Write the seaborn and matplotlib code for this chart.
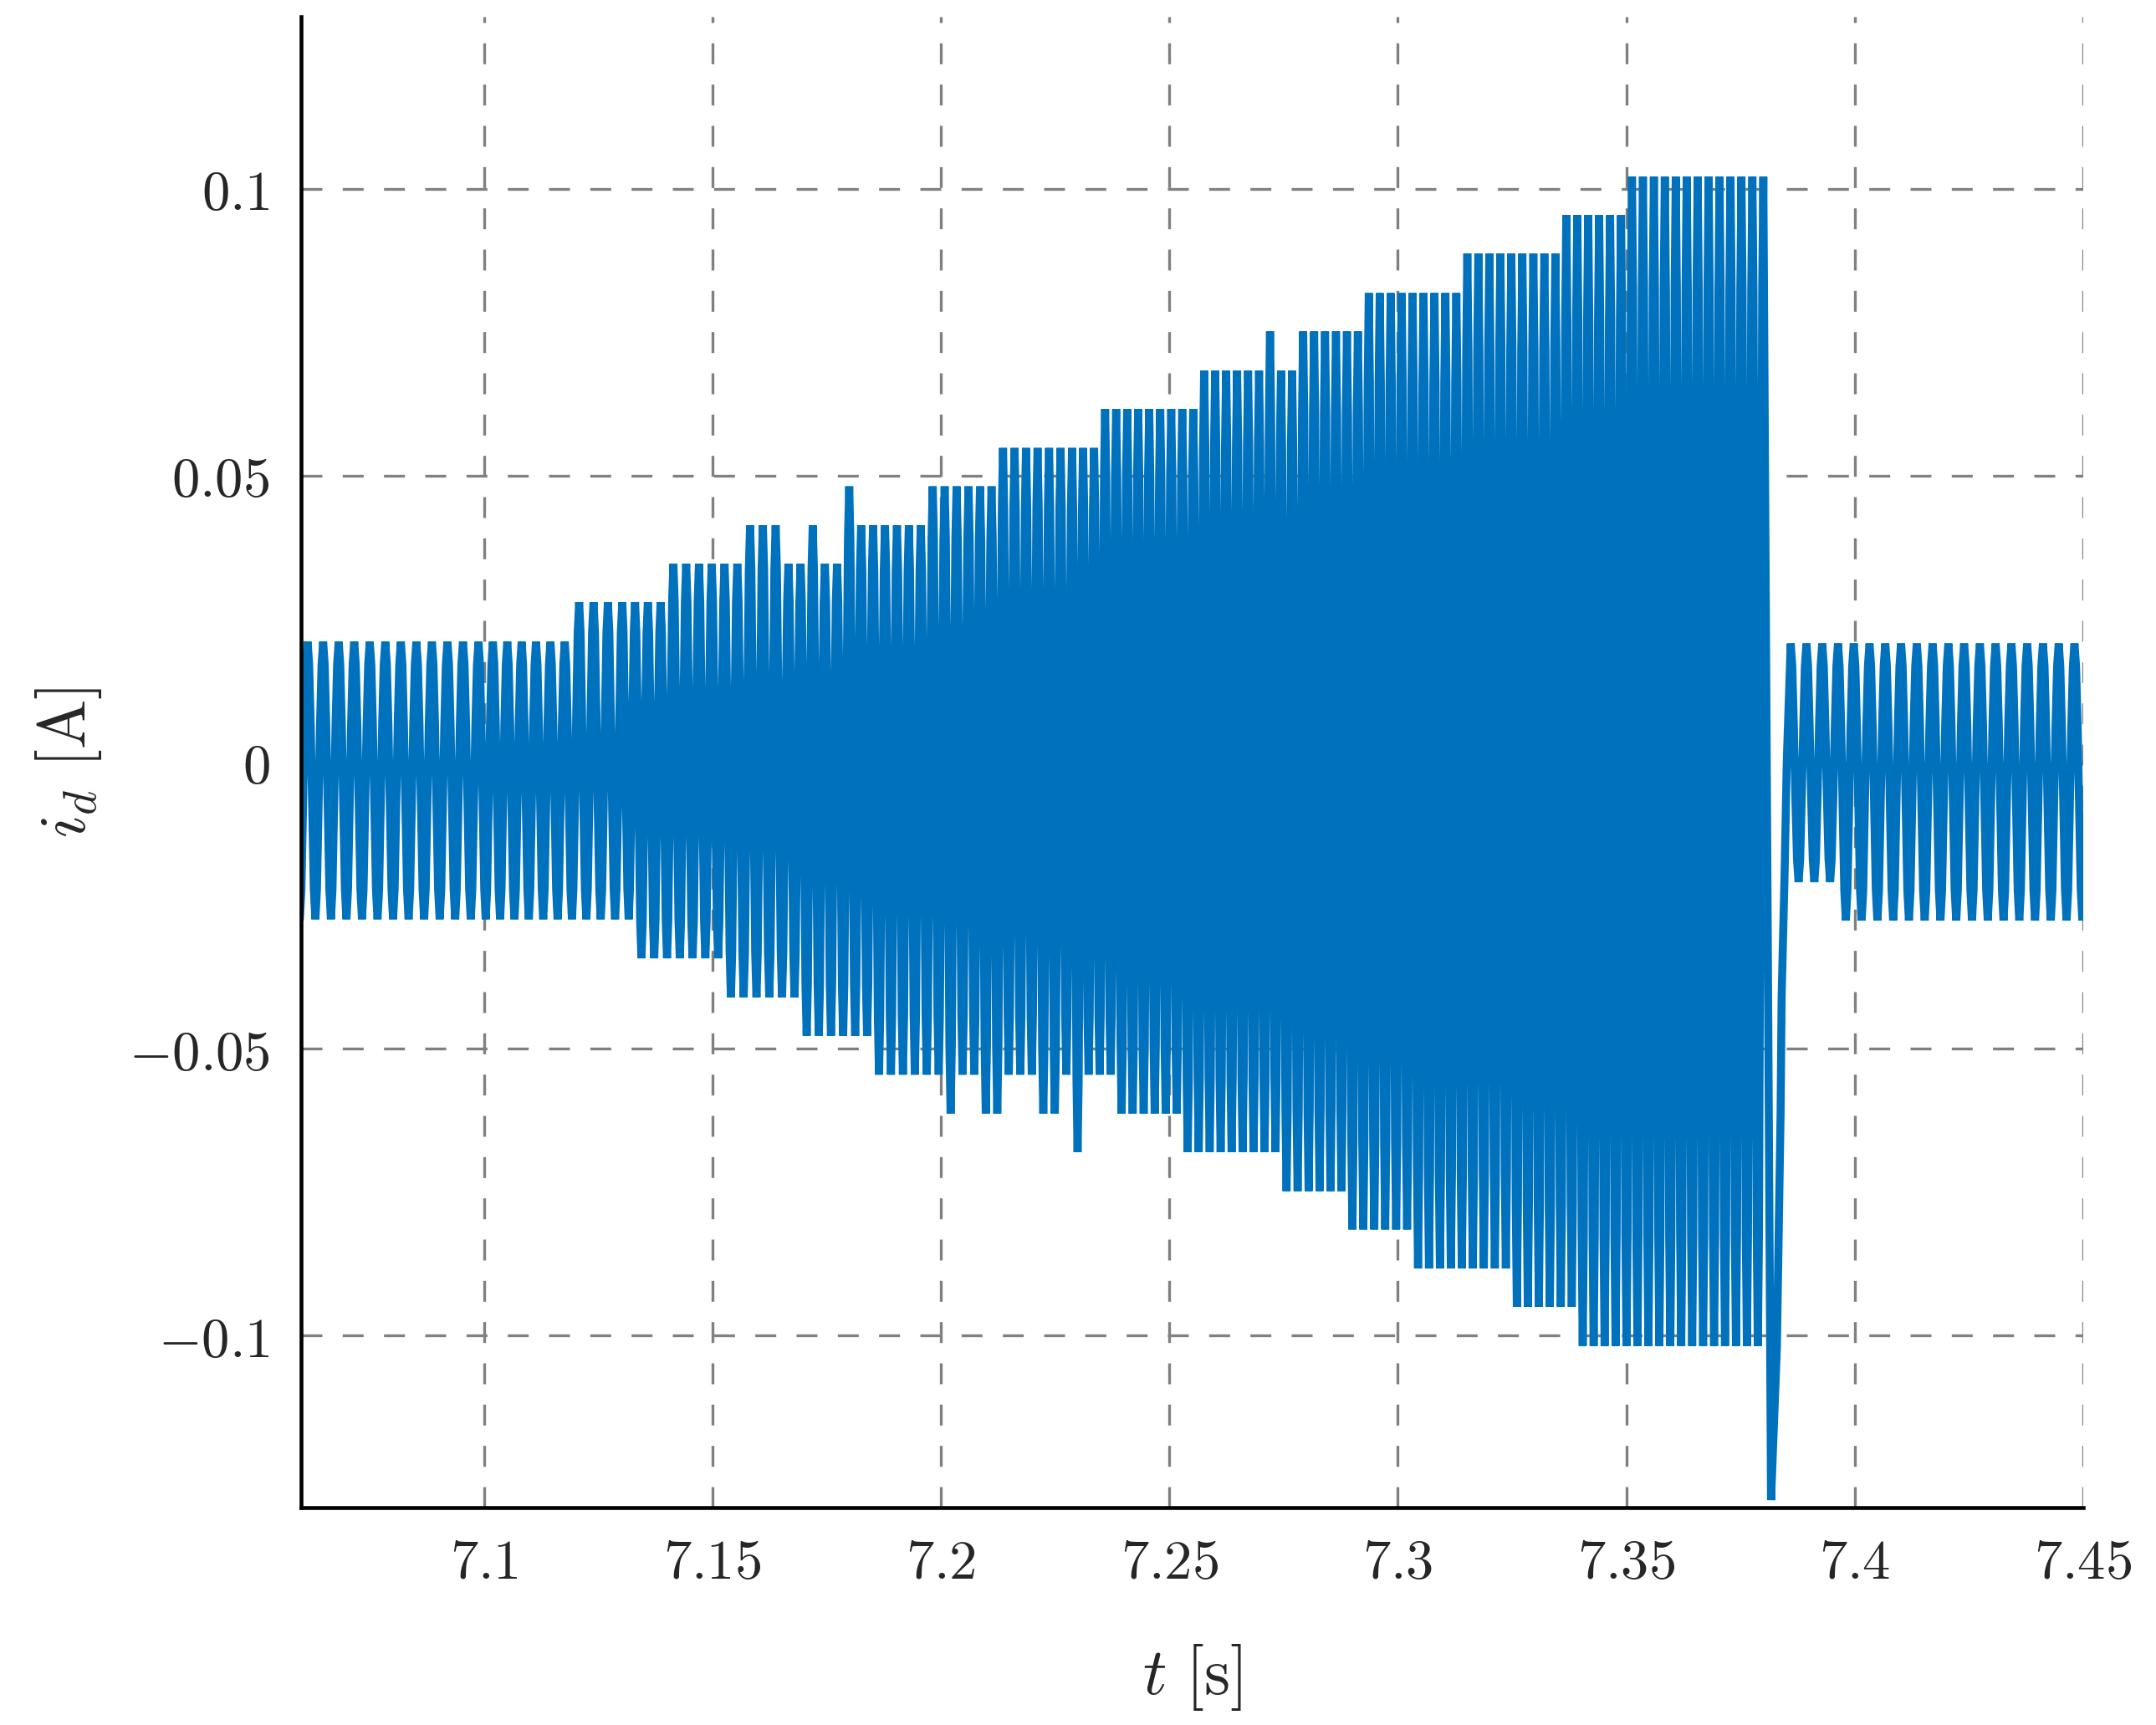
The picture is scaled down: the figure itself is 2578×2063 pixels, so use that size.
import numpy as np
import pandas as pd
import seaborn as sns
import matplotlib.pyplot as plt

# ---- data ----
# upper peak times: anchor bars (cycle index -> time of top)
peak_idx = [-1, 0, 11, 21, 34, 36, 39, 49, 58, 68, 77, 79, 93, 102, 121]
peak_t = [7.05803, 7.06143, 7.09883, 7.13029, 7.16665, 7.17197, 7.17995, 7.20606,
          7.22872, 7.25283, 7.27444, 7.27929, 7.31281, 7.33448, 7.37999]

# upper envelope: first cycle index of each level
hi_idx = [-1, 18, 25, 31, 34, 36, 37, 39, 40, 46, 52, 61, 70, 76, 77, 79, 85, 94, 103, 109]
hi_lev = [0.0210, 0.0279, 0.0346, 0.0413, 0.0346, 0.0413, 0.0346, 0.0481, 0.0413, 0.0481,
          0.0548, 0.0616, 0.0683, 0.0751, 0.0683, 0.0751, 0.0818, 0.0887, 0.0954, 0.1021]

# lower envelope: start time of each level
lo_t = [7.0, 7.1340, 7.1539, 7.1704, 7.1864, 7.2012, 7.2040, 7.2096, 7.2124, 7.2223,
        7.2251, 7.2292, 7.2320, 7.2393, 7.2532, 7.2744, 7.2889, 7.3043, 7.3260, 7.3404]
lo_lev = [-0.0274, -0.0342, -0.0410, -0.0477, -0.0545, -0.0613, -0.0545, -0.0613, -0.0545,
          -0.0613, -0.0545, -0.0680, -0.0545, -0.0613, -0.0680, -0.0748, -0.0815, -0.0883,
          -0.0950, -0.1018]

# the trip: drop and recovery ramp
ev_t = [7.38168, 7.38296, 7.38377, 7.38400, 7.38462, 7.38512]
ev_v = [-0.1287, -0.1020, -0.0612, -0.0408, -0.0204, 0.0]

# after the trip
post_t0 = 7.38598
post_period = 0.00345
post_hi = 0.0207
post_lo = [-0.0209, -0.0209, -0.0209, -0.0276]  # last value holds to the end

# one cycle from a top to the next top
shape = [1.0, 0.81, 0.31, -0.31, -0.81, -1.0, -0.81, -0.31, 0.31, 0.81]


def cycles(tops_t, tops_v, lows_v):
    ts, vs = [], []
    n = len(shape)
    for j in range(len(tops_t) - 1):
        ta, tb = tops_t[j], tops_t[j + 1]
        for k, s in enumerate(shape):
            f = k / n
            if s >= 0:
                amp = tops_v[j] if f < 0.5 else tops_v[j + 1]
            else:
                amp = -lows_v[j]
            ts.append(ta + f * (tb - ta))
            vs.append(s * amp)
    ts.append(tops_t[-1])
    vs.append(tops_v[-1])
    return ts, vs


# before the trip
idx = np.arange(-1, 122)
tops_t = np.interp(idx, peak_idx, peak_t)
tops_v = [hi_lev[np.searchsorted(hi_idx, j, side="right") - 1] for j in idx]
mids = (tops_t[:-1] + tops_t[1:]) / 2
lows_v = [lo_lev[np.searchsorted(lo_t, m, side="right") - 1] for m in mids]
t1, v1 = cycles(list(tops_t), tops_v, lows_v)

# after the trip
k = np.arange(0, 20)
ptops_t = post_t0 + k * post_period
ptops_v = [post_hi] * len(k)
plows_v = [post_lo[min(i, len(post_lo) - 1)] for i in range(len(k) - 1)]
t2, v2 = cycles(list(ptops_t), ptops_v, plows_v)

df = pd.DataFrame({"t": t1 + ev_t + t2, "i_d": v1 + ev_v + v2})

# ---- plot ----
sns.set_style("white")
plt.rcParams["mathtext.fontset"] = "cm"
plt.rcParams["font.family"] = ["DejaVu Serif"]

fig = plt.figure(figsize=(2578 / 300, 2063 / 300), dpi=300)
ax = fig.add_axes([360 / 2578, 1 - 1803 / 2063, (2491 - 360) / 2578, (1803 - 20) / 2063])

sns.lineplot(data=df, x="t", y="i_d", ax=ax, sort=False, estimator=None,
             color="#0072BD", linewidth=2.3, solid_joinstyle="bevel")

xticks = [7.1, 7.15, 7.2, 7.25, 7.3, 7.35, 7.4, 7.45]
xtick_txt = ["7.1", "7.15", "7.2", "7.25", "7.3", "7.35", "7.4", "7.45"]
yticks = [-0.1, -0.05, 0, 0.05, 0.1]
ytick_txt = ["-0.1", "-0.05", "0", "0.05", "0.1"]

ax.set_xlim(7.06, 7.45)
ax.set_ylim(-0.13, 0.13)
ax.set_xticks(xticks)
ax.set_xticklabels([f"${s}$" for s in xtick_txt])
ax.set_yticks(yticks)
ax.set_yticklabels([f"${s}$" for s in ytick_txt])
ax.tick_params(length=0, labelsize=16)
ax.tick_params(axis="x", pad=8)
ax.tick_params(axis="y", pad=9)

ax.set_axisbelow(True)
ax.grid(True, color="#808080", linewidth=0.8, linestyle=(0, (7.5, 7.3)))

for side in ["top", "right"]:
    ax.spines[side].set_visible(False)
for side in ["left", "bottom"]:
    ax.spines[side].set_color("black")
    ax.spines[side].set_linewidth(1.1)

ax.set_xlabel(r"$t\ [\mathrm{s}]$", fontsize=19, labelpad=15)
ax.set_ylabel(r"$i_d\ [\mathrm{A}]$", fontsize=19, labelpad=7)

fig.savefig("out.png", dpi=300)
